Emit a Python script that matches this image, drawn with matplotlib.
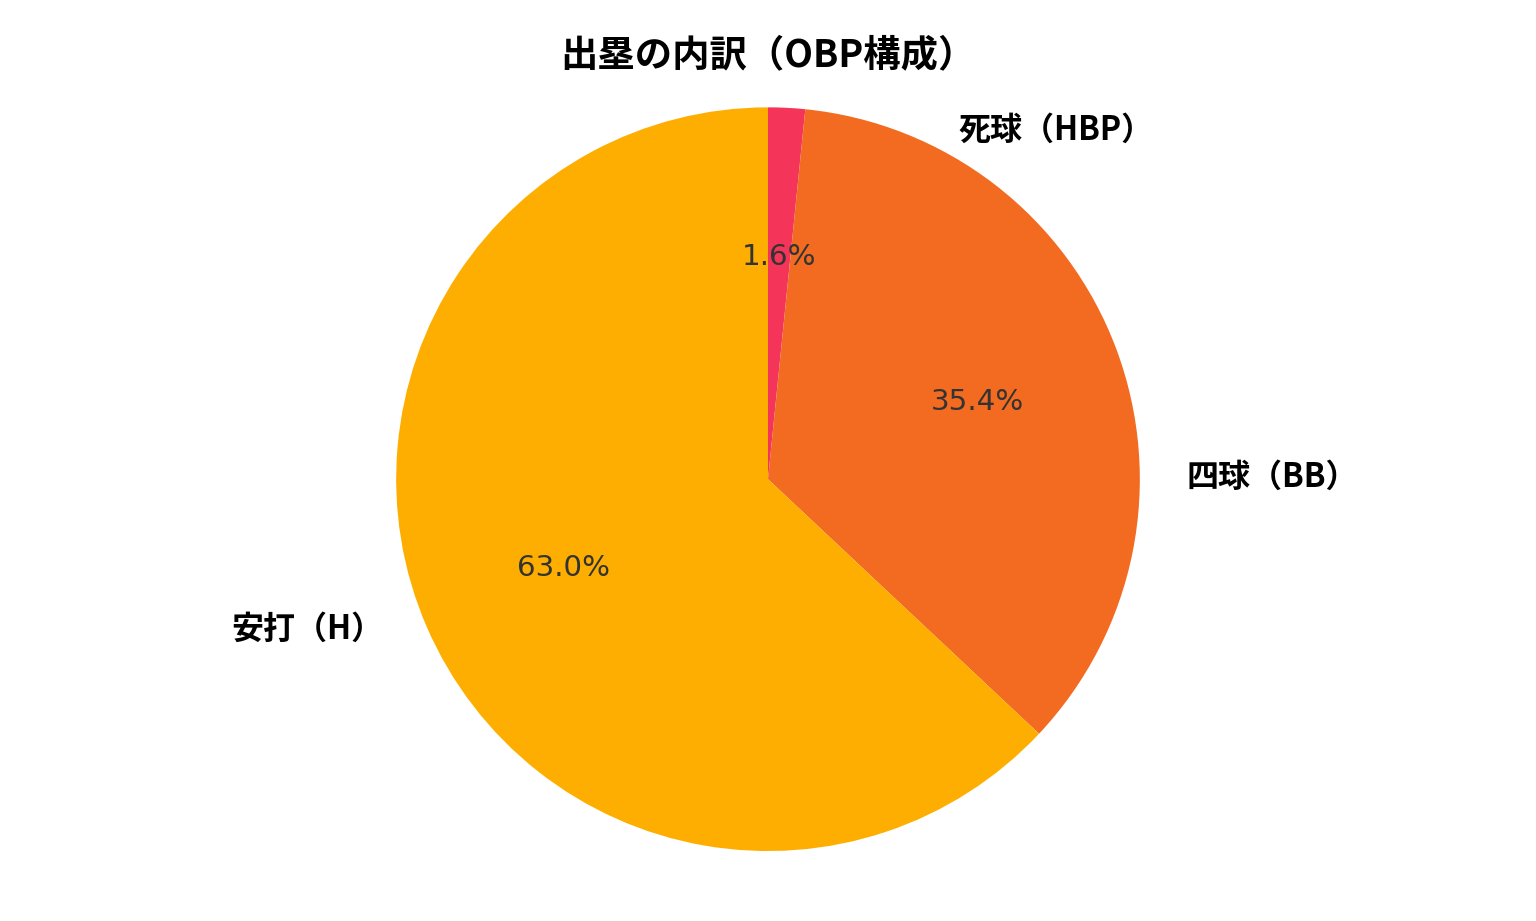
import matplotlib
matplotlib.use("Agg")
import matplotlib.pyplot as plt

# data
labels = ["死球（HBP）", "四球（BB）", "安打（H）"]
shares = [1.6, 35.4, 63.0]
colors = ["#F5345A", "#F26B21", "#FEAE00"]
title = "出塁の内訳（OBP構成）"

plt.rcParams['font.family'] = ['Noto Sans CJK JP', 'DejaVu Sans']

fig = plt.figure(figsize=(16, 9.6), dpi=96)
ax = fig.add_axes([0, 0, 1, 1])

wedges, texts, autotexts = ax.pie(
    shares, labels=labels, colors=colors, startangle=90, counterclock=False,
    autopct="%1.1f%%", pctdistance=0.6,
)

# pixel layout: pie centre (768, 480) from top-left, radius 372 px
r_px = 372.0
ax.set_xlim(-768 / r_px, (1536 - 768) / r_px)
ax.set_ylim(-(922 - 480) / r_px, 480 / r_px)
ax.axis("off")

# percentages in plain DejaVu
for t in autotexts:
    t.set_fontfamily("DejaVu Sans")
    t.set_fontsize(22)
    t.set_color("#333333")

# outer labels
label_pos = [(0.511, 0.941, "left"), (1.126, 0.008, "left"), (-1.035, -0.403, "right")]
for t, (x, y, ha) in zip(texts, label_pos):
    t.set_position((x, y))
    t.set_ha(ha)
    t.set_va("center")
    t.set_fontsize(24)
    t.set_fontweight("bold")
    t.set_color("black")

fig.text(0.5, 1 - 55 / 922, title, ha="center", va="center",
         fontsize=28, fontweight="bold")

fig.savefig("out.png", dpi=96)
